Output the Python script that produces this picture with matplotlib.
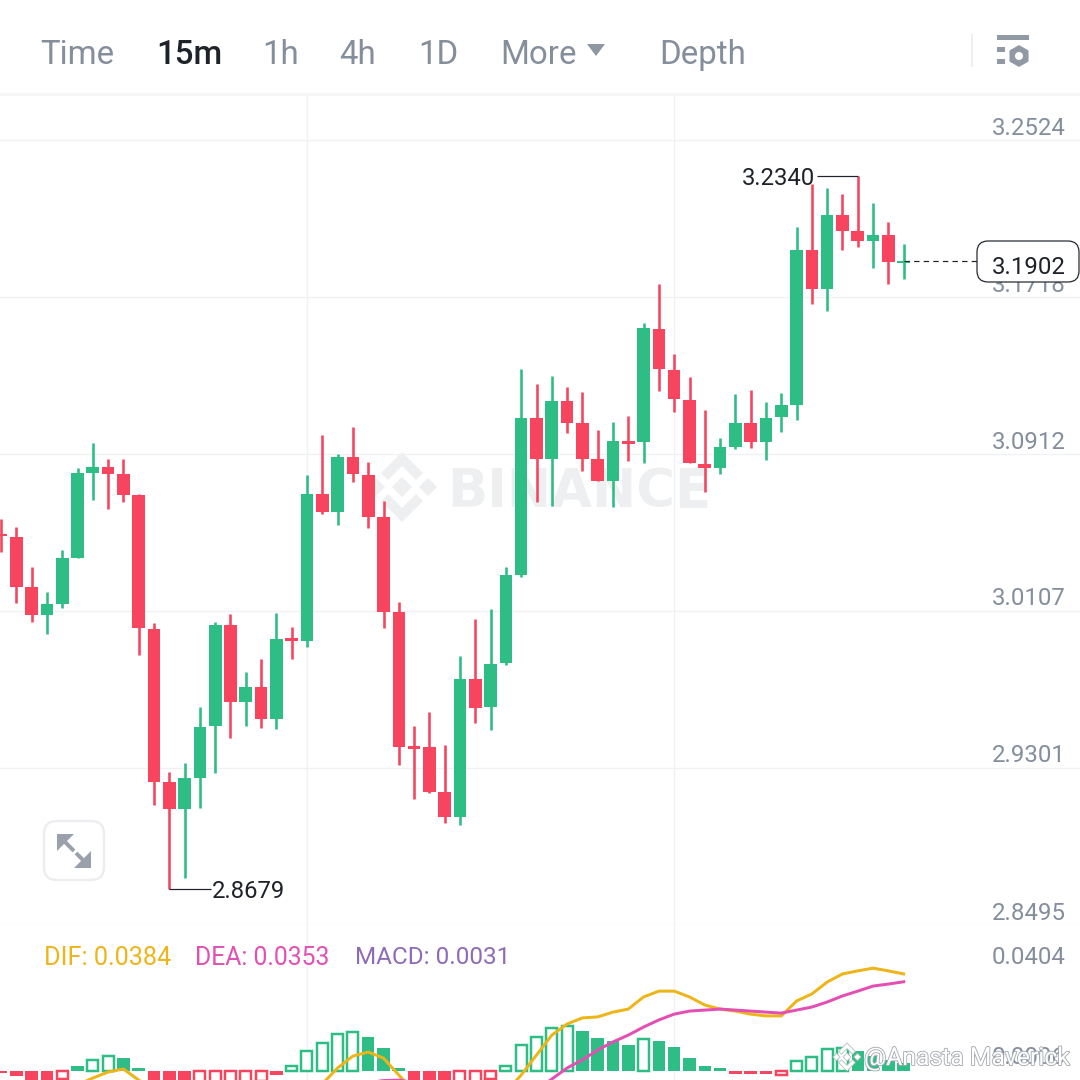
import numpy as np
import matplotlib
matplotlib.use("Agg")
import matplotlib.pyplot as plt
import matplotlib.patheffects as pe
from matplotlib.patches import FancyBboxPatch, Polygon, Rectangle, Circle, RegularPolygon

plt.rcParams["font.family"] = ["Roboto", "DejaVu Sans"]

# candles, one per 15m
opens = [3.0504, 3.0488, 3.0231, 3.0086, 3.0141, 3.0377, 3.0816, 3.0847, 3.0808, 3.0702,
         3.0016, 2.9227, 2.9089, 2.9251, 2.9516, 3.0036, 2.9638, 2.9715, 2.9551, 2.9966,
         2.9953, 3.0707, 3.0613, 3.0899, 3.0805, 3.0588, 3.0100, 2.9414, 2.9409, 2.9179,
         2.9051, 2.9756, 2.9612, 2.9838, 3.0291, 3.1096, 3.0888, 3.1183, 3.1073, 3.0885,
         3.0775, 3.0978, 3.0972, 3.1554, 3.1344, 3.1190, 3.0863, 3.0842, 3.0950, 3.1073,
         3.0972, 3.1104, 3.1165, 3.1959, 3.1758, 3.2138, 3.2057, 3.2007, 3.2036, 3.1892]
closes = [3.0494, 3.0231, 3.0086, 3.0141, 3.0377, 3.0813, 3.0847, 3.0810, 3.0702, 3.0018,
          2.9231, 2.9089, 2.9248, 2.9513, 3.0036, 2.9638, 2.9715, 2.9551, 2.9963, 2.9953,
          3.0707, 3.0613, 3.0899, 3.0808, 3.0588, 3.0100, 2.9410, 2.9398, 2.9179, 2.9051,
          2.9756, 2.9610, 2.9835, 3.0290, 3.1096, 3.0888, 3.1183, 3.1073, 3.0885, 3.0775,
          3.0978, 3.0964, 3.1559, 3.1347, 3.1193, 3.0865, 3.0842, 3.0950, 3.1071, 3.0972,
          3.1099, 3.1164, 3.1959, 3.1758, 3.2141, 3.2057, 3.2006, 3.2035, 3.1898, 3.1902]
highs = [3.0577, 3.0539, 3.0334, 3.0203, 3.0420, 3.0842, 3.0967, 3.0887, 3.0887, 3.0706,
         3.0044, 2.9280, 2.9325, 2.9612, 3.0052, 3.0091, 2.9795, 2.9859, 3.0098, 3.0023,
         3.0805, 3.1010, 3.0912, 3.1051, 3.0870, 3.0671, 3.0151, 2.9518, 2.9590, 2.9419,
         2.9876, 3.0064, 3.0115, 3.0331, 3.1349, 3.1272, 3.1314, 3.1258, 3.1232, 3.1036,
         3.1078, 3.1109, 3.1585, 3.1785, 3.1426, 3.1309, 3.1138, 3.0993, 3.1220, 3.1241,
         3.1181, 3.1224, 3.2076, 3.2298, 3.2279, 3.2245, 3.2340, 3.2199, 3.2105, 3.1990]
lows = [3.0411, 3.0146, 3.0052, 2.9987, 3.0124, 3.0377, 3.0676, 3.0629, 3.0665, 2.9881,
        2.9111, 2.8679, 2.8735, 2.9094, 2.9274, 2.9453, 2.9518, 2.9505, 2.9499, 2.9859,
        2.9923, 3.0603, 3.0548, 3.0770, 3.0531, 3.0021, 2.9316, 2.9140, 2.9171, 2.9020,
        2.9008, 2.9530, 2.9496, 2.9829, 3.0280, 3.0665, 3.0647, 3.1022, 3.0827, 3.0775,
        3.0639, 3.0877, 3.0868, 3.1237, 3.1128, 3.0865, 3.0719, 3.0808, 3.0936, 3.0945,
        3.0882, 3.1027, 3.1087, 3.1681, 3.1648, 3.1959, 3.1973, 3.1866, 3.1785, 3.1809]

# macd panel
macd_hist = [-.0008, -.0020, -.0048, -.0048, -.0032, .0020, .0044, .0059, .0050, .0010,
             -.0048, -.0048, -.0048, -.0051, -.0051, -.0048, -.0044, -.0040, -.0014, .0020,
             .0081, .0110, .0147, .0156, .0135, .0091, .0010, -.0048, -.0048, -.0048,
             -.0048, -.0044, -.0032, .0021, .0103, .0135, .0172, .0178, .0158, .0131,
             .0119, .0103, .0127, .0119, .0095, .0053, .0020, .0011, -.0010, -.0010,
             -.0010, -.0016, .0040, .0055, .0087, .0091, .0079, .0059, .0044, .0031]
hollow_bars = [4, 6, 7, 13, 14, 15, 16, 17, 19, 20, 21, 22, 23, 30, 31, 32, 33, 34, 35, 36,
               37, 42, 51, 52, 53, 54, 55]
dif = [-.0095, -.0107, -.0115, -.0107, -.0083, -.0055, -.0028, -.0004, .0008, -.0036,
       -.0083, -.0135, -.0174, -.0186, -.0186, -.0178, -.0170, -.0162, -.0146, -.0131,
       -.0107, -.0051, .0012, .0059, .0075, .0051, -.0016, -.0083, -.0135, -.0174,
       -.0178, -.0162, -.0131, -.0083, -.0016, .0063, .0142, .0186, .0210, .0214,
       .0233, .0245, .0293, .0316, .0316, .0293, .0261, .0245, .0237, .0225,
       .0218, .0218, .0277, .0305, .0352, .0384, .0396, .0407, .0396, .0384]
dea = [-.0080, -.0085, -.0090, -.0092, -.0090, -.0085, -.0075, -.0065, -.0055, -.0052,
       -.0058, -.0070, -.0085, -.0100, -.0115, -.0125, -.0132, -.0138, -.0140, -.0138,
       -.0130, -.0115, -.0090, -.0065, -.0045, -.0038, -.0036, -.0045, -.0060, -.0080,
       -.0100, -.0115, -.0120, -.0115, -.0095, -.0075, -.0032, .0012, .0044, .0083,
       .0115, .0142, .0174, .0202, .0225, .0237, .0241, .0245, .0241, .0237,
       .0233, .0229, .0241, .0253, .0273, .0297, .0316, .0336, .0344, .0353]

price_ticks = [3.2524, 3.1718, 3.0912, 3.0107, 2.9301, 2.8495]
price_labels = ["3.2524", "3.1718", "3.0912", "3.0107", "2.9301", "2.8495"]
macd_ticks = [0.0404, 0.0006]
macd_labels = ["0.0404", "0.0006"]
time_grid = [20, 44]
tabs = ["Time", "15m", "1h", "4h", "1D", "More", "Depth"]
tab_left = [40, 156, 262, 339, 418, 500, 659]

GREEN = "#2EBD85"
RED = "#F8455F"
GRAY = "#848E9C"
DARK = "#1E2329"
GRID = "#EFF1F3"
WM = "#EEEFF0"

PX = 0.72  # points per pixel at dpi 100


def pixel_axes(fig, z):
    a = fig.add_axes([0, 0, 1, 1], zorder=z)
    a.set_xlim(0, 1080)
    a.set_ylim(1080, 0)
    a.axis("off")
    a.patch.set_alpha(0)
    return a


def binance_logo(a, cx, cy, r, fc, ec="none", lw=0):
    # centre, side diamonds and the two chevrons
    s = r / 35.0
    def diamond(x, y, d):
        a.add_patch(Polygon([(x, y - d), (x + d, y), (x, y + d), (x - d, y)], fc=fc, ec=ec, lw=lw))
    diamond(cx, cy, 10 * s)
    diamond(cx - 26 * s, cy, 9 * s)
    diamond(cx + 26 * s, cy, 9 * s)
    for sign in (-1, 1):
        a.add_patch(Polygon([(cx, cy + sign * 35 * s), (cx + 21 * s, cy + sign * 14 * s),
                             (cx + 14 * s, cy + sign * 7 * s), (cx, cy + sign * 21 * s),
                             (cx - 14 * s, cy + sign * 7 * s), (cx - 21 * s, cy + sign * 14 * s)],
                            fc=fc, ec=ec, lw=lw))


fig = plt.figure(figsize=(10.8, 10.8), dpi=100, facecolor="white")

# background: watermark sits under the candles
bg = pixel_axes(fig, 0)
binance_logo(bg, 402, 487, 35, WM)
bg.text(447, 492, "BINANCE", fontsize=38, fontweight="bold", family="DejaVu Sans", color=WM,
        va="center", ha="left")

x = np.arange(len(opens))
xlim = (-1 / 15.3, 1079 / 15.3)

# price panel, y=95 to y=925 px
ax = fig.add_axes([0, (1080 - 925) / 1080, 1, (925 - 95) / 1080], zorder=1)
ax.patch.set_alpha(0)
ax.set_xlim(*xlim)
ax.set_ylim(2.8495, 3.2755)
for s in ax.spines.values():
    s.set_visible(False)
ax.set_xticks(time_grid)
ax.set_yticks(price_ticks)
ax.tick_params(length=0, labelleft=False, labelbottom=False)
ax.grid(True, color=GRID, lw=1.3 * PX)
ax.set_axisbelow(True)

o = np.array(opens)
c = np.array(closes)
colors = [GREEN if cl >= op else RED for op, cl in zip(o, c)]
ax.vlines(x, lows, highs, colors=colors, lw=2.6 * PX, zorder=3)
ax.bar(x, np.abs(c - o), bottom=np.minimum(o, c), width=12.6 / 15.3, color=colors, zorder=3)

for tick, label in zip(price_ticks, price_labels):
    ax.annotate(label, (1, tick), xycoords=("axes fraction", "data"), xytext=(-14.5 * PX, 12 * PX),
                textcoords="offset points", ha="right", va="center", fontsize=17.3, color=GRAY)

# high / low markers
hi = int(np.argmax(highs))
lo = int(np.argmin(lows))
ax.hlines(highs[hi], hi - 2.68, hi, color=DARK, lw=1.2 * PX, zorder=4)
ax.text(hi - 2.78, highs[hi] - 0.0012, "3.2340", ha="right", va="center", fontsize=17.2, color=DARK, zorder=5)
ax.hlines(lows[lo], lo, lo + 2.7, color=DARK, lw=1.2 * PX, zorder=4)
ax.text(lo + 2.78, lows[lo] - 0.0012, "2.8679", ha="left", va="center", fontsize=17.2, color=DARK, zorder=5)

# last price line
ax.hlines(closes[-1], x[-1], 63.8, color=DARK, lw=1.2 * PX, linestyles=(0, (4.5, 3.5)), zorder=4)

# macd panel, y=925 to bottom
ax2 = fig.add_axes([0, 0, 1, (1080 - 925) / 1080], zorder=1)
ax2.patch.set_alpha(0)
ax2.set_xlim(*xlim)
ax2.set_ylim(-0.00356, 0.05776)
for s in ax2.spines.values():
    s.set_visible(False)
ax2.set_xticks(time_grid)
ax2.set_yticks([])
ax2.tick_params(length=0, labelleft=False, labelbottom=False)
ax2.grid(True, axis="x", color=GRID, lw=1.3 * PX)
ax2.set_axisbelow(True)

for i, v in enumerate(macd_hist):
    col = GREEN if v >= 0 else RED
    if i in hollow_bars:
        ax2.bar(i, v, width=11 / 15.3, facecolor="white", edgecolor=col, lw=2.5 * PX, zorder=2)
    else:
        ax2.bar(i, v, width=12.6 / 15.3, color=col, zorder=2)
ax2.plot(x, dif, color="#EDB518", lw=3 * PX, zorder=3)
ax2.plot(x, dea, color="#E44FB4", lw=3 * PX, zorder=4)

for tick, label in zip(macd_ticks, macd_labels):
    ax2.annotate(label, (1, tick), xycoords=("axes fraction", "data"), xytext=(-14.5 * PX, 11.5 * PX),
                 textcoords="offset points", ha="right", va="center", fontsize=17.3, color=GRAY)

# chrome on top
ui = pixel_axes(fig, 2)
ui.add_patch(Rectangle((0, 93), 1080, 2.5, fc="#F5F6F7", ec="none"))
for name, left in zip(tabs, tab_left):
    active = name == "15m"
    ui.text(left, 55, name, fontsize=23.8, color=DARK if active else GRAY,
            fontweight="medium" if active else "normal", va="center", ha="left")
ui.add_patch(Polygon([(587, 44), (605, 44), (596, 56)], fc="#8F97A3", ec="none"))

ui.add_patch(Rectangle((971, 34), 2, 33, fc="#EDEEF0", ec="none"))
icon = "#9199A5"
ui.add_patch(Rectangle((997, 35), 32, 5, fc=icon, ec="none"))
ui.add_patch(Rectangle((997, 47), 8, 5, fc=icon, ec="none"))
ui.add_patch(Rectangle((997, 59), 8, 5, fc=icon, ec="none"))
ui.add_patch(RegularPolygon((1019, 56), 6, radius=11, fc=icon, ec="none"))
ui.add_patch(Circle((1019, 56), 4, fc="white", ec="none"))

# last price box
ui.add_patch(FancyBboxPatch((985, 249), 86, 25, boxstyle="round,pad=8,rounding_size=11",
                            fc="white", ec=DARK, lw=1.2 * PX))
ui.text(1065.5, 267, "3.1902", ha="right", va="center", fontsize=17.3, color=DARK)

# expand button
ui.add_patch(FancyBboxPatch((54, 831), 40, 39, boxstyle="round,pad=10,rounding_size=13",
                            fc="white", ec="#ECEDF0", lw=2.4 * PX))
ui.add_patch(Polygon([(57, 834), (74, 834), (57, 851)], fc="#9AA0AC", ec="none"))
ui.add_patch(Polygon([(91, 868), (74, 868), (91, 851)], fc="#9AA0AC", ec="none"))
ui.plot([63, 74], [840, 851], color="#9AA0AC", lw=4 * PX, solid_capstyle="butt")
ui.plot([85, 76], [862, 853], color="#9AA0AC", lw=4 * PX, solid_capstyle="butt")

# macd legend
ui.text(44, 958, "DIF: 0.0384", fontsize=18.2, color="#EDB518", va="center", ha="left")
ui.text(195, 958, "DEA: 0.0353", fontsize=17.8, color="#E44FB4", va="center", ha="left")
ui.text(355, 958, "MACD: 0.0031", fontsize=17.5, color="#8E6BB8", va="center", ha="left")

# uploader watermark
binance_logo(ui, 847, 1057, 14, "white", ec="#B9BDC2", lw=0.6)
ui.text(864, 1058, "@Anasta Maverick", fontsize=17.8, color="white", va="center", ha="left",
        path_effects=[pe.withStroke(linewidth=1.3, foreground="#A8ADB3")])

fig.savefig("out.png", dpi=100, facecolor="white")
